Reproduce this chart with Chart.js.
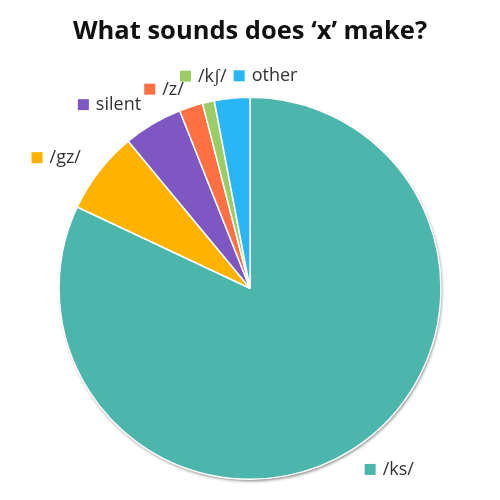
<!DOCTYPE html>
<html>
<head>
<meta charset="utf-8">
<script src="https://cdn.jsdelivr.net/npm/chart.js@4"></script>
<style>
  html, body { margin: 0; padding: 0; background: #fff; }
  #wrap { width: 500px; height: 500px; }
</style>
</head>
<body>
<div id="wrap"><canvas id="pie"></canvas></div>
<script>
'use strict';

const sounds = ['/ks/', '/gz/', 'silent', '/z/', '/kʃ/', 'other'];
const shares = [82, 7, 5, 2, 1, 3];
const colours = ['#4db6ac', '#ffb300', '#7e57c2', '#ff7043', '#9ccc65', '#29b6f6'];

// soft shadow under the whole pie
const pieShadow = {
  id: 'pieShadow',
  beforeDatasetsDraw(chart) {
    const arc = chart.getDatasetMeta(0).data[0];
    if (!arc) return;
    const ctx = chart.ctx;
    ctx.save();
    ctx.shadowColor = 'rgba(0,0,0,0.45)';
    ctx.shadowBlur = 3;
    ctx.shadowOffsetX = 1;
    ctx.shadowOffsetY = 2;
    ctx.fillStyle = '#fff';
    ctx.beginPath();
    ctx.arc(arc.x, arc.y, arc.outerRadius, 0, Math.PI * 2);
    ctx.fill();
    ctx.restore();
  }
};

// coloured square + name outside each slice
const sliceLabels = {
  id: 'sliceLabels',
  afterDatasetsDraw(chart) {
    const ctx = chart.ctx;
    const arcs = chart.getDatasetMeta(0).data;
    ctx.save();
    ctx.font = '18px "Open Sans"';
    ctx.textBaseline = 'middle';

    const boxes = arcs.map((arc, i) => {
      const mid = (arc.startAngle + arc.endAngle) / 2;
      const d = arc.outerRadius + 23;
      const ax = arc.x + Math.cos(mid) * d;
      const y = arc.y + Math.sin(mid) * d;
      const w = 11 + 7 + ctx.measureText(sounds[i]).width;
      let left;
      if (Math.cos(mid) > 0.3) left = ax;
      else if (Math.cos(mid) < -0.3) left = ax - w;
      else left = ax - w / 2;
      return { left, w, y };
    });

    // push crowded labels apart: vertically if they sit at different heights, else sideways
    for (let i = 1; i < boxes.length; i++) {
      const b = boxes[i];
      for (let j = 0; j < i; j++) {
        const p = boxes[j];
        const dy = Math.abs(b.y - p.y);
        if (b.left < p.left + p.w && b.left + b.w > p.left && dy < 13) {
          if (dy >= 4) {
            const half = (13 - dy) / 2;
            if (b.y < p.y) { b.y -= half; p.y += half; } else { b.y += half; p.y -= half; }
          } else {
            b.left = p.left + p.w + 7;
          }
        }
      }
    }

    boxes.forEach((b, i) => {
      ctx.fillStyle = colours[i];
      ctx.fillRect(b.left, b.y - 5, 11, 11);
      ctx.fillStyle = '#333';
      ctx.fillText(sounds[i], b.left + 18, b.y + 1);
    });
    ctx.restore();
  }
};

new Chart('pie', {
  type: 'pie',
  data: {
    labels: sounds,
    datasets: [{
      data: shares,
      backgroundColor: colours,
      borderColor: '#fff',
      borderWidth: 1.5,
      hoverOffset: 0
    }]
  },
  options: {
    responsive: true,
    maintainAspectRatio: false,
    animation: false,
    events: [],
    layout: { padding: { left: 58, right: 58, bottom: 20, top: 0 } },
    plugins: {
      legend: { display: false },
      tooltip: { enabled: false },
      title: {
        display: true,
        text: 'What sounds does ‘x’ make?',
        color: '#111',
        font: { family: '"Open Sans"', size: 25.5, weight: 'bold' },
        padding: { top: 16, bottom: 50 }
      }
    }
  },
  plugins: [pieShadow, sliceLabels]
});
</script>
</body>
</html>
